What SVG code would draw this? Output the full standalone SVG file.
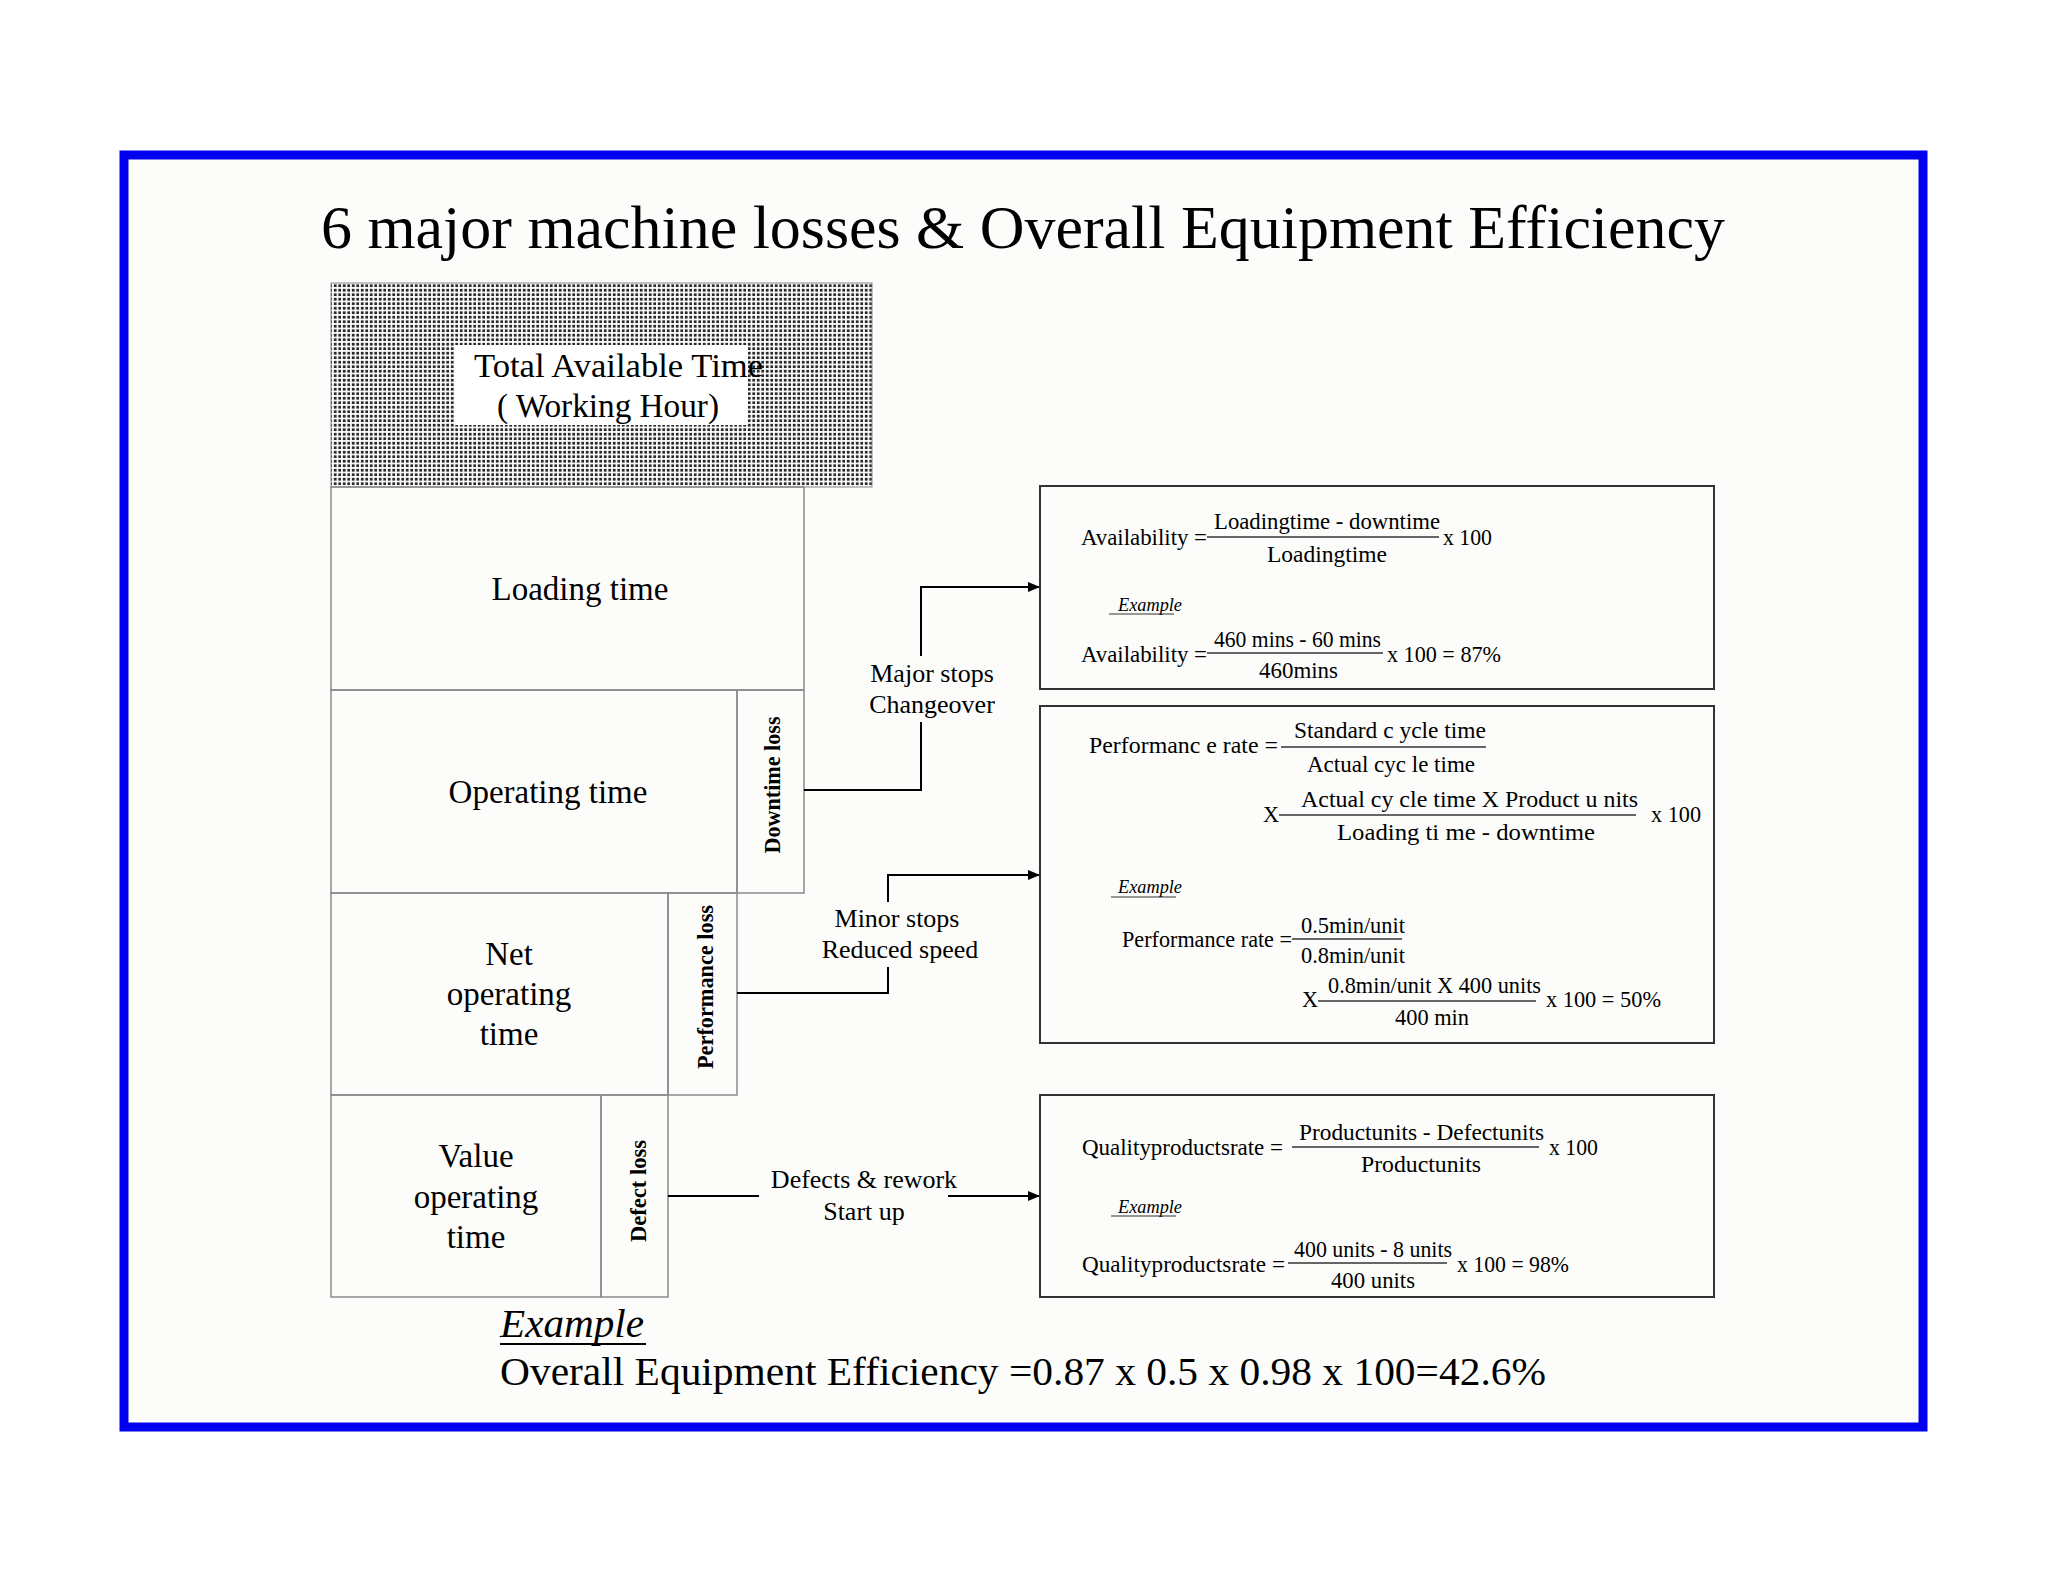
<svg xmlns="http://www.w3.org/2000/svg" width="2048" height="1582" viewBox="0 0 2048 1582">
<defs>
<pattern id="dots" width="4.5" height="4.5" patternUnits="userSpaceOnUse">
<rect width="4.5" height="4.5" fill="#ffffff"/>
<rect x="0.8" y="0.8" width="2.8" height="2.8" fill="#2a2a2a"/>
</pattern>
<marker id="arr" viewBox="0 0 12 10" refX="12" refY="5" markerWidth="12" markerHeight="10" markerUnits="userSpaceOnUse" orient="auto">
<path d="M0,0 L12,5 L0,10 Z" fill="#000"/>
</marker>
<style>
text{font-family:"Liberation Serif","Times New Roman",serif;fill:#000}
.lbl{font-size:33px;text-anchor:middle}
.rot{font-size:24px;font-weight:bold;text-anchor:middle}
.cl{font-size:26px;text-anchor:middle}
.f{font-size:23px}
.ex{font-size:18px;font-style:italic}
.box{fill:none;stroke:#8a8a8a;stroke-width:1.5}
.fbox{fill:none;stroke:#333;stroke-width:2}
.fl{stroke:#333;stroke-width:1.5}
.ul{stroke:#333;stroke-width:1.2}
.con{fill:none;stroke:#000;stroke-width:2}
</style>
</defs>
<rect x="0" y="0" width="2048" height="1582" fill="#ffffff"/>
<rect id="frame" x="124" y="155" width="1799" height="1272" fill="#fcfdfb" stroke="#0000ee" stroke-width="9"/>
<text id="title" x="321" y="248" font-size="62" textLength="1404" lengthAdjust="spacingAndGlyphs">6 major machine losses &amp; Overall Equipment Efficiency</text>

<g id="total-time">
<rect x="331" y="283" width="541" height="204" fill="url(#dots)" stroke="#888" stroke-width="1"/>
<rect x="455" y="345" width="293" height="80" fill="#ffffff"/>
<text x="474" y="377" font-size="33" textLength="289" lengthAdjust="spacingAndGlyphs">Total Available Time</text>
<text x="497" y="417" font-size="33" textLength="222" lengthAdjust="spacingAndGlyphs">( Working Hour)</text>
</g>
<g id="loading-time">
<rect class="box" x="331" y="487" width="473" height="203"/>
<text class="lbl" x="580" y="600">Loading time</text>
</g>
<g id="operating-time">
<rect class="box" x="331" y="690" width="406" height="203"/>
<text class="lbl" x="548" y="803">Operating time</text>
</g>
<g id="downtime-loss">
<rect class="box" x="737" y="690" width="67" height="203"/>
<text class="rot" x="780" y="785" transform="rotate(-90 780 785)" textLength="137" lengthAdjust="spacingAndGlyphs">Downtime loss</text>
</g>
<g id="net-operating-time">
<rect class="box" x="331" y="893" width="337" height="202"/>
<text class="lbl" x="509" y="965">Net</text>
<text class="lbl" x="509" y="1005">operating</text>
<text class="lbl" x="509" y="1045">time</text>
</g>
<g id="performance-loss">
<rect class="box" x="668" y="893" width="69" height="202"/>
<text class="rot" x="713" y="987" transform="rotate(-90 713 987)" textLength="164" lengthAdjust="spacingAndGlyphs">Performance loss</text>
</g>
<g id="value-operating-time">
<rect class="box" x="331" y="1095" width="270" height="202"/>
<text class="lbl" x="476" y="1167">Value</text>
<text class="lbl" x="476" y="1208">operating</text>
<text class="lbl" x="476" y="1248">time</text>
</g>
<g id="defect-loss">
<rect class="box" x="601" y="1095" width="67" height="202"/>
<text class="rot" x="646" y="1191" transform="rotate(-90 646 1191)" textLength="102" lengthAdjust="spacingAndGlyphs">Defect loss</text>
</g>

<g id="connectors">
<polyline class="con" points="804,790 921,790 921,722"/>
<polyline class="con" points="921,656 921,587 1040,587" marker-end="url(#arr)"/>
<polyline class="con" points="737,993 888,993 888,967"/>
<polyline class="con" points="888,902 888,875 1040,875" marker-end="url(#arr)"/>
<line class="con" x1="668" y1="1196" x2="759" y2="1196"/>
<line class="con" x1="948" y1="1196" x2="1040" y2="1196" marker-end="url(#arr)"/>
<text class="cl" x="932" y="682">Major stops</text>
<text class="cl" x="932" y="713">Changeover</text>
<text class="cl" x="897" y="927">Minor stops</text>
<text class="cl" x="900" y="958">Reduced speed</text>
<text class="cl" x="864" y="1188">Defects &amp; rework</text>
<text class="cl" x="864" y="1220">Start up</text>
</g>

<g id="availability">
<rect class="fbox" x="1040" y="486" width="674" height="203"/>
<text class="f" x="1081" y="545" textLength="126" lengthAdjust="spacingAndGlyphs">Availability =</text>
<text class="f" x="1214" y="529" textLength="226" lengthAdjust="spacingAndGlyphs">Loadingtime - downtime</text>
<line class="fl" x1="1207" y1="537" x2="1439" y2="537"/>
<text class="f" x="1267" y="562" textLength="120" lengthAdjust="spacingAndGlyphs">Loadingtime</text>
<text class="f" x="1443" y="545" textLength="49" lengthAdjust="spacingAndGlyphs">x 100</text>
<text class="ex" x="1118" y="611" textLength="64" lengthAdjust="spacingAndGlyphs">Example</text>
<line class="ul" x1="1109" y1="614" x2="1174" y2="614"/>
<text class="f" x="1081" y="662" textLength="126" lengthAdjust="spacingAndGlyphs">Availability =</text>
<text class="f" x="1214" y="647" textLength="167" lengthAdjust="spacingAndGlyphs">460 mins - 60 mins</text>
<line class="fl" x1="1207" y1="653" x2="1383" y2="653"/>
<text class="f" x="1259" y="678" textLength="79" lengthAdjust="spacingAndGlyphs">460mins</text>
<text class="f" x="1387" y="662" textLength="114" lengthAdjust="spacingAndGlyphs">x 100 = 87%</text>
</g>

<g id="performance-rate">
<rect class="fbox" x="1040" y="706" width="674" height="337"/>
<text class="f" x="1089" y="753" textLength="189" lengthAdjust="spacingAndGlyphs">Performanc e rate =</text>
<text class="f" x="1294" y="738" textLength="192" lengthAdjust="spacingAndGlyphs">Standard c  ycle time</text>
<line class="fl" x1="1281" y1="747" x2="1486" y2="747"/>
<text class="f" x="1307" y="772" textLength="168" lengthAdjust="spacingAndGlyphs">Actual cyc le time</text>
<text class="f" x="1263" y="822" textLength="16" lengthAdjust="spacingAndGlyphs">X</text>
<line class="fl" x1="1279" y1="815" x2="1636" y2="815"/>
<text class="f" x="1301" y="807" textLength="337" lengthAdjust="spacingAndGlyphs">Actual cy cle time X   Product u nits</text>
<text class="f" x="1337" y="840" textLength="258" lengthAdjust="spacingAndGlyphs">Loading ti me  -   downtime</text>
<text class="f" x="1651" y="822" textLength="50" lengthAdjust="spacingAndGlyphs">x 100</text>
<text class="ex" x="1118" y="893" textLength="64" lengthAdjust="spacingAndGlyphs">Example</text>
<line class="ul" x1="1111" y1="897" x2="1176" y2="897"/>
<text class="f" x="1122" y="947" textLength="170" lengthAdjust="spacingAndGlyphs">Performance rate =</text>
<text class="f" x="1301" y="933" textLength="104" lengthAdjust="spacingAndGlyphs">0.5min/unit</text>
<line class="fl" x1="1292" y1="939" x2="1402" y2="939"/>
<text class="f" x="1301" y="963" textLength="104" lengthAdjust="spacingAndGlyphs">0.8min/unit</text>
<text class="f" x="1302" y="1007" textLength="16" lengthAdjust="spacingAndGlyphs">X</text>
<line class="fl" x1="1318" y1="1001" x2="1536" y2="1001"/>
<text class="f" x="1328" y="993" textLength="213" lengthAdjust="spacingAndGlyphs">0.8min/unit X 400 units</text>
<text class="f" x="1395" y="1025" textLength="74" lengthAdjust="spacingAndGlyphs">400 min</text>
<text class="f" x="1546" y="1007" textLength="115" lengthAdjust="spacingAndGlyphs">x 100 = 50%</text>
</g>

<g id="quality-rate">
<rect class="fbox" x="1040" y="1095" width="674" height="202"/>
<text class="f" x="1082" y="1155" textLength="201" lengthAdjust="spacingAndGlyphs">Qualityproductsrate =</text>
<text class="f" x="1299" y="1140" textLength="245" lengthAdjust="spacingAndGlyphs">Productunits - Defectunits</text>
<line class="fl" x1="1292" y1="1147" x2="1539" y2="1147"/>
<text class="f" x="1361" y="1172" textLength="120" lengthAdjust="spacingAndGlyphs">Productunits</text>
<text class="f" x="1549" y="1155" textLength="49" lengthAdjust="spacingAndGlyphs">x 100</text>
<text class="ex" x="1118" y="1213" textLength="64" lengthAdjust="spacingAndGlyphs">Example</text>
<line class="ul" x1="1111" y1="1216" x2="1176" y2="1216"/>
<text class="f" x="1082" y="1272" textLength="203" lengthAdjust="spacingAndGlyphs">Qualityproductsrate =</text>
<text class="f" x="1294" y="1257" textLength="158" lengthAdjust="spacingAndGlyphs">400 units - 8 units</text>
<line class="fl" x1="1288" y1="1263" x2="1447" y2="1263"/>
<text class="f" x="1331" y="1288" textLength="84" lengthAdjust="spacingAndGlyphs">400 units</text>
<text class="f" x="1457" y="1272" textLength="112" lengthAdjust="spacingAndGlyphs">x 100 = 98%</text>
</g>

<g id="oee">
<text x="500" y="1337" font-size="41" font-style="italic" textLength="144" lengthAdjust="spacingAndGlyphs">Example</text>
<line x1="500" y1="1344" x2="646" y2="1344" stroke="#000" stroke-width="2"/>
<text x="500" y="1385" font-size="41" textLength="1046" lengthAdjust="spacingAndGlyphs">Overall Equipment Efficiency =0.87 x 0.5 x 0.98 x 100=42.6%</text>
</g>
</svg>
